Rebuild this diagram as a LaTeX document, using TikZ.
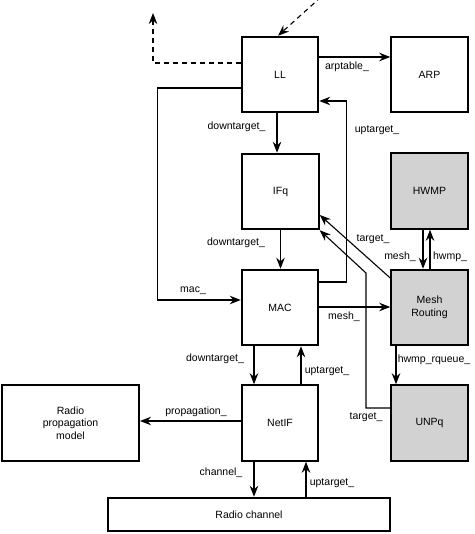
\documentclass[tikz,border=0pt]{standalone}
\usepackage{fontspec}
\setmainfont{Liberation Sans}
\usetikzlibrary{arrows.meta}
\begin{document}
\begin{tikzpicture}[x=1pt,y=1pt,
		blk/.style={draw, line width=2pt, minimum width=76.5pt, minimum height=75.5pt, inner sep=0pt, align=center, font=\fontsize{10.5}{12.5}\selectfont},
		gblk/.style={blk, fill=gray!35},
		conn/.style={line width=1.1pt, -{Stealth[length=11pt,width=8.5pt]}},
		lbl/.style={inner sep=0pt, font=\fontsize{10.5}{12.5}\selectfont}]
				\useasboundingbox (0,0) rectangle (474,-534);
				
				\node[blk] (LL) at (280,-74.5) {LL};
				\node[blk] (ARP) at (429.5,-74.5) {ARP};
				\node[blk] (IFq) at (280.5,-191.5) {IFq};
				\node[blk] (MAC) at (280,-307.5) {MAC};
				\node[blk] (NetIF) at (280,-423) {NetIF};
				\node[blk, minimum width=137pt] (RPM) at (70.5,-423) {Radio\\propagation\\model};
				\node[blk, minimum width=282.5pt, minimum height=33.5pt] (chan) at (249,-514.5) {Radio channel};
				\node[gblk] (HWMP) at (429.5,-191) {HWMP};
				\node[gblk] (Mesh) at (429.5,-307.5) {Mesh\\Routing};
				\node[gblk] (UNPq) at (429.5,-423) {UNPq};
				
				\coordinate (upin) at (321,3);
				\coordinate (upout) at (153,-13);
				
				\draw[conn, dash pattern=on 5pt off 4pt] (upin) -- ([xshift=-2pt]LL.north);
				\draw[conn, dash pattern=on 5pt off 4pt] ([yshift=11.5pt]LL.west) -| (upout);
				\draw[conn] ([yshift=17.5pt]LL.east) -- ([yshift=17.5pt]ARP.west);
				\draw[conn] ([xshift=-3pt]LL.south) -- ([xshift=-3pt]LL.south |- IFq.north);
				\draw[conn] (IFq.south) -- (IFq.south |- MAC.north);
				\draw[conn] ([yshift=-13.5pt]LL.west) -- ++(-83,0) |- ([yshift=7.5pt]MAC.west);
				\draw[conn] ([yshift=25.5pt]MAC.east) -- ++(27,0) |- ([yshift=-26.5pt]LL.east);
				\draw[conn] ([yshift=0.5pt]MAC.east) -- ([yshift=0.5pt]Mesh.west);
				\draw[conn] ([yshift=29.5pt]Mesh.west) -- ([yshift=-23.5pt]IFq.east);
				\draw[conn] ([yshift=15pt]UNPq.west) -| (366,-273) -- (IFq.south east);
				\draw[conn] ([xshift=-6.5pt]HWMP.south) -- ([xshift=-6.5pt]Mesh.north);
				\draw[conn] ([xshift=0.5pt]Mesh.north) -- ([xshift=0.5pt]HWMP.south);
				\draw[conn] ([xshift=-33.5pt]Mesh.south) -- ([xshift=-33.5pt]UNPq.north);
				\draw[conn] ([xshift=-26pt]MAC.south) -- ([xshift=-26pt]NetIF.north);
				\draw[conn] ([xshift=21pt]NetIF.north) -- ([xshift=21pt]MAC.south);
				\draw[conn] ([yshift=2pt]NetIF.west) -- ([yshift=2pt]RPM.east);
				\draw[conn] ([xshift=-26pt]NetIF.south) -- ([xshift=-26pt]NetIF.south |- chan.north);
				\draw[conn] ([xshift=26pt]NetIF.south |- chan.north) -- ([xshift=26pt]NetIF.south);
				
				\node[lbl] (arpL) at (347,-67) {arptable\_};
				\node[lbl] (llDownL) at (236.5,-127) {downtarget\_};
				\node[lbl] (llUpL) at (377,-130) {uptarget\_};
				\node[lbl] (ifqDownL) at (236,-243) {downtarget\_};
				\node[lbl] (macL) at (193,-291) {mac\_};
				\node[lbl] (ifqTargetL) at (373,-239) {target\_};
				\node[lbl] (hwmpMeshL) at (400,-257) {mesh\_};
				\node[lbl] (hwmpL) at (450,-257) {hwmp\_};
				\node[lbl] (macMeshL) at (344,-317) {mesh\_};
				\node[lbl] (rqueueL) at (434,-360) {hwmp\_rqueue\_};
				\node[lbl] (macDownL) at (215,-359) {downtarget\_};
				\node[lbl] (macUpL) at (327,-371) {uptarget\_};
				\node[lbl] (propL) at (196,-412) {propagation\_};
				\node[lbl] (unpqTargetL) at (366,-417) {target\_};
				\node[lbl] (chanL) at (221,-473) {channel\_};
				\node[lbl] (chanUpL) at (332,-483) {uptarget\_};
\end{tikzpicture}
\end{document}
